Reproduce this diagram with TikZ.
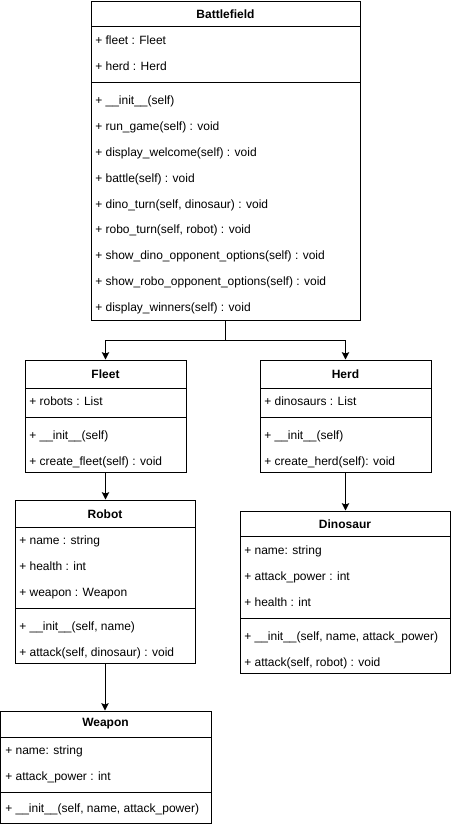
\documentclass[tikz,border=0pt]{standalone}
\usepackage{fontspec}
\setmainfont{Liberation Sans}
\usetikzlibrary{arrows.meta,fit}
\newcommand\fsz{\fontsize{9pt}{11pt}\selectfont}
\begin{document}
\begin{tikzpicture}[x=0.75pt,y=-0.75pt,
  cls/.style={draw, line width=0.75pt, inner sep=0pt},
  ttl/.style={font=\fsz\bfseries, anchor=center, inner sep=0pt},
  row/.style={font=\fsz, anchor=base west, inner sep=0pt},
  divline/.style={line width=0.75pt},
  arr/.style={line width=0.75pt, -{Stealth[length=5.5pt,width=5.5pt,inset=1pt]}}]
\useasboundingbox (0,0) rectangle (451,826);

% Battlefield
\node[cls, fit={(91,1)(360,320)}] (bf) {};
\node[ttl] (bf-t) at (225.5,14) {Battlefield};
\draw[divline] (91,26) -- (360,26);
\draw[divline] (91,82) -- (360,82);
\node[row] (bf-a1) at (95,40+4.3) {+ fleet : Fleet};
\node[row] (bf-a2) at (95,66+4.3) {+ herd : Herd};
\node[row] (bf-m1) at (95,100+4.3) {+ \_\_init\_\_(self)};
\node[row] (bf-m2) at (95,126+4.3) {+ run\_game(self) : void};
\node[row] (bf-m3) at (95,152+4.3) {+ display\_welcome(self) : void};
\node[row] (bf-m4) at (95,178+4.3) {+ battle(self) : void};
\node[row] (bf-m5) at (95,204+4.3) {+ dino\_turn(self, dinosaur) : void};
\node[row] (bf-m6) at (95,229+4.3) {+ robo\_turn(self, robot) : void};
\node[row] (bf-m7) at (95,255+4.3) {+ show\_dino\_opponent\_options(self) : void};
\node[row] (bf-m8) at (95,281+4.3) {+ show\_robo\_opponent\_options(self) : void};
\node[row] (bf-m9) at (95,307+4.3) {+ display\_winners(self) : void};

% Fleet
\node[cls, fit={(25,360)(186,472)}] (fleet) {};
\node[ttl] (fleet-t) at (105.5,374) {Fleet};
\draw[divline] (25,388) -- (186,388);
\draw[divline] (25,417) -- (186,417);
\node[row] (fleet-a1) at (29,401+4.3) {+ robots : List};
\node[row] (fleet-m1) at (29,435+4.3) {+ \_\_init\_\_(self)};
\node[row] (fleet-m2) at (29,461+4.3) {+ create\_fleet(self) : void};

% Herd
\node[cls, fit={(260,360)(431,472)}] (herd) {};
\node[ttl] (herd-t) at (345.5,374) {Herd};
\draw[divline] (260,388) -- (431,388);
\draw[divline] (260,417) -- (431,417);
\node[row] (herd-a1) at (264,401+4.3) {+ dinosaurs : List};
\node[row] (herd-m1) at (264,435+4.3) {+ \_\_init\_\_(self)};
\node[row] (herd-m2) at (264,461+4.3) {+ create\_herd(self): void};

% Robot
\node[cls, fit={(15,500)(195,663)}] (robot) {};
\node[ttl] (robot-t) at (105,514) {Robot};
\draw[divline] (15,527) -- (195,527);
\draw[divline] (15,608) -- (195,608);
\node[row] (robot-a1) at (19,540+4.3) {+ name : string};
\node[row] (robot-a2) at (19,566+4.3) {+ health : int};
\node[row] (robot-a3) at (19,592+4.3) {+ weapon : Weapon};
\node[row] (robot-m1) at (19,626+4.3) {+ \_\_init\_\_(self, name)};
\node[row] (robot-m2) at (19,652+4.3) {+ attack(self, dinosaur) : void};

% Dinosaur
\node[cls, fit={(240,511)(450,673)}] (dino) {};
\node[ttl] (dino-t) at (345,524) {Dinosaur};
\draw[divline] (240,536) -- (450,536);
\draw[divline] (240,618) -- (450,618);
\node[row] (dino-a1) at (244,550+4.3) {+ name: string};
\node[row] (dino-a2) at (244,576+4.3) {+ attack\_power : int};
\node[row] (dino-a3) at (244,602+4.3) {+ health : int};
\node[row] (dino-m1) at (244,636+4.3) {+ \_\_init\_\_(self, name, attack\_power)};
\node[row] (dino-m2) at (244,662+4.3) {+ attack(self, robot) : void};

% Weapon
\node[cls, fit={(0.5,711)(211,823)}] (weapon) {};
\node[ttl] (weapon-t) at (105.5,724) {Weapon};
\draw[divline] (0.5,737) -- (211,737);
\draw[divline] (0.5,792) -- (211,792);
\node[row] (weapon-a1) at (5,750+4.3) {+ name: string};
\node[row] (weapon-a2) at (5,776+4.3) {+ attack\_power : int};
\node[row] (weapon-m1) at (5,808+4.3) {+ \_\_init\_\_(self, name, attack\_power)};

% Connectors
\draw[arr] (bf.south) -- ++(0,20) coordinate (junc) -| (fleet.north);
\draw[arr] (junc) -| (herd.north);
\draw[arr] (fleet.south) -- (fleet.south |- robot.north);
\draw[arr] (herd.south) -- (herd.south |- dino.north);
\draw[arr] (robot.south) -- (robot.south |- weapon.north);
\end{tikzpicture}
\end{document}
